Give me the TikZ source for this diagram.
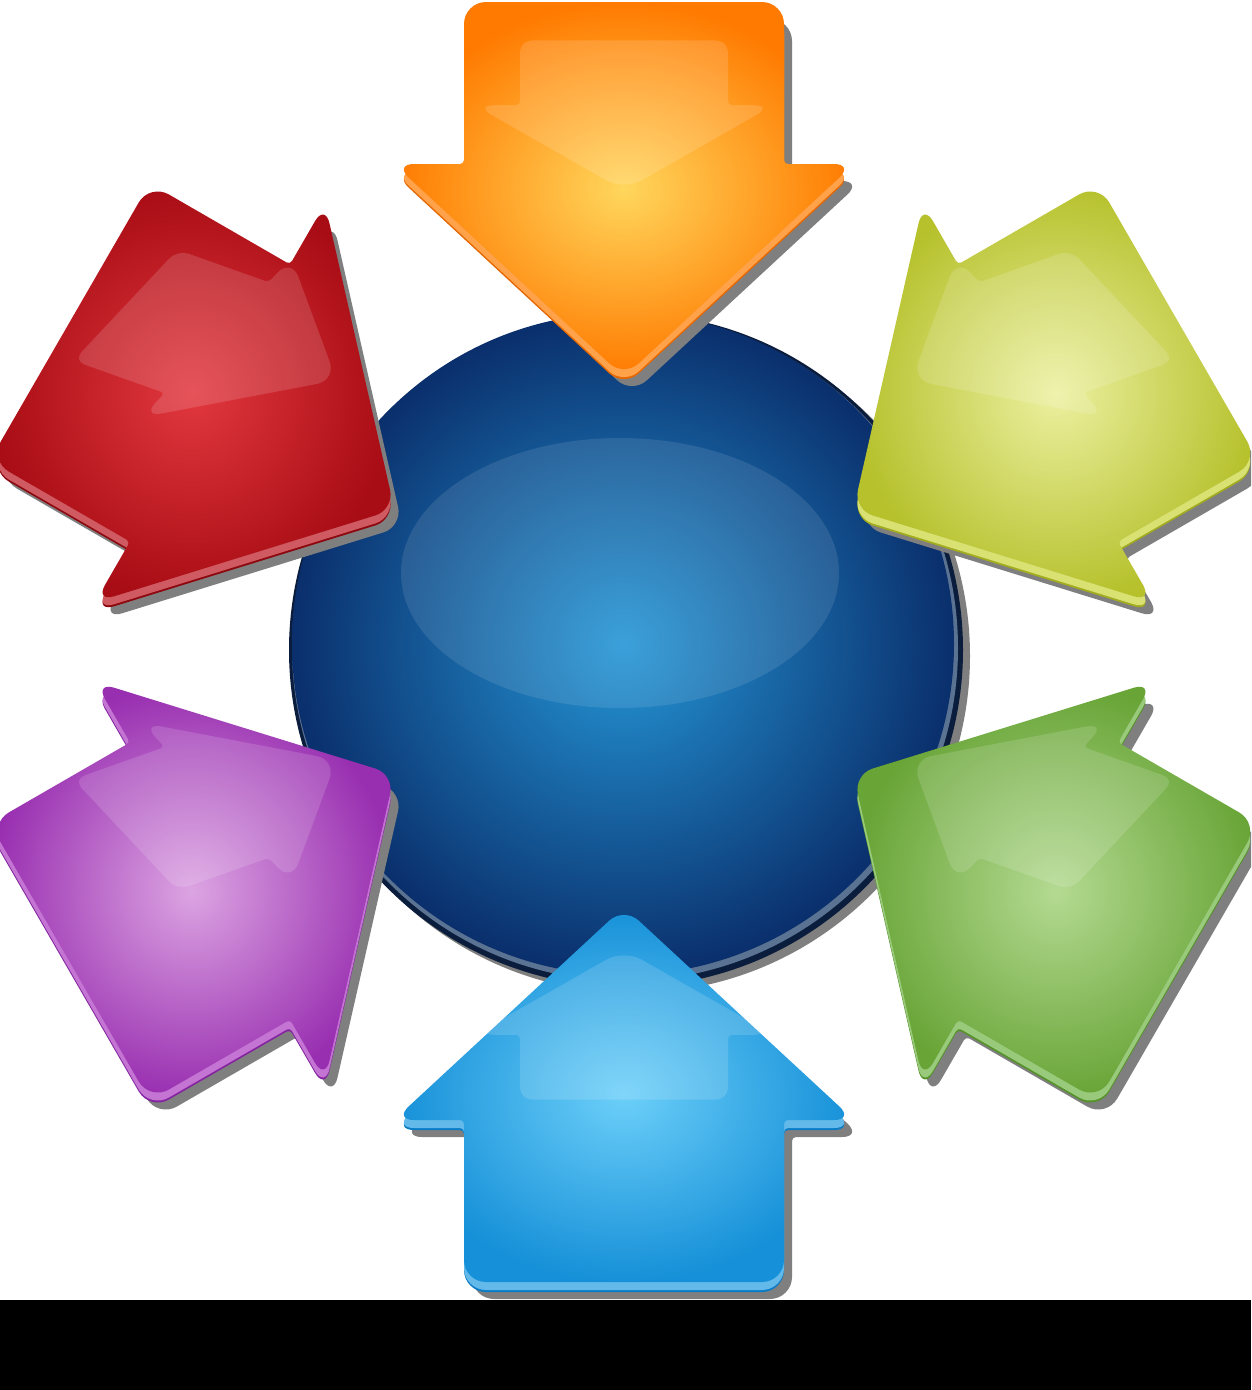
\documentclass[tikz,border=0pt]{standalone}
\usepackage{tikz}

\definecolor{shadowgray}{HTML}{7F7F7F}
\definecolor{ballin}{HTML}{2596D6}
\definecolor{ballout}{HTML}{0A2F6C}
\definecolor{balledge}{HTML}{0B1D3C}
\definecolor{ballrim}{HTML}{5B7393}
% arrow colours: face outer, face centre, rim, edge
\definecolor{orgout}{HTML}{FF7A00}\definecolor{orgin}{HTML}{FFD65C}\definecolor{orgrim}{HTML}{FFA24A}\definecolor{orgedge}{HTML}{E86800}
\definecolor{redout}{HTML}{A80C14}\definecolor{redin}{HTML}{E2383F}\definecolor{redrim}{HTML}{CF5A62}\definecolor{rededge}{HTML}{8C080E}
\definecolor{limout}{HTML}{B6C12C}\definecolor{limin}{HTML}{ECF0A0}\definecolor{limrim}{HTML}{D9E173}\definecolor{limedge}{HTML}{A2AC1E}
\definecolor{grnout}{HTML}{68A436}\definecolor{grnin}{HTML}{B4DA92}\definecolor{grnrim}{HTML}{99C97A}\definecolor{grnedge}{HTML}{56922A}
\definecolor{bluout}{HTML}{1690D8}\definecolor{bluin}{HTML}{6CCFF9}\definecolor{blurim}{HTML}{62B9EA}\definecolor{bluedge}{HTML}{0A7CC8}
\definecolor{purout}{HTML}{982EB0}\definecolor{purin}{HTML}{DCA4E2}\definecolor{purrim}{HTML}{C474D2}\definecolor{puredge}{HTML}{8424A0}

\tikzset{
  shadowfill/.style={fill=shadowgray},
  glossfill/.style={fill=white, fill opacity=0.14},
  arrowcorner/.style={rounded corners=22pt},
}

% one arrow, pointing at the ball centre, ball centre at origin
\newcommand{\arrowshape}{(-160,-560) -- (-160,-640) -- (160,-640) [rounded corners=4pt] -- (160,-478) [rounded corners=20pt] -- (230,-478) -- (0,-265) -- (-230,-478) [rounded corners=4pt] -- (-160,-478) -- cycle}

% #1 angle, #2 face outer, #3 face centre, #4 rim, #5 edge, #6 #7 gloss centre
\newcommand{\inarrow}[7]{%
  \fill[shadowfill, arrowcorner, shift={(632,659)}, rotate=#1] \arrowshape;
  \fill[fill=#5, arrowcorner, shift={(624,652)}, rotate=#1] \arrowshape;
  \fill[fill=#4, arrowcorner, shift={(624,650)}, rotate=#1] \arrowshape;
  \shade[inner color=#3, outer color=#2, arrowcorner, shift={(624,642)}, rotate=#1] \arrowshape;
  \fill[glossfill, rounded corners=12pt, shift={(#6,#7)}, xscale=0.65, yscale=0.4, rotate=#1, shift={(0,456)}] \arrowshape;
}

\begin{document}
\begin{tikzpicture}[x=1pt,y=-1pt]
\useasboundingbox (0,0) rectangle (1251,1390);
\fill[white] (0,0) rectangle (1251,1390);

\begin{scope}
\clip (0,0) rectangle (1251,1300);

%Shape: Ball
\fill[shadowfill] (633,656) circle (337pt);
\fill[balledge] (626,650) circle (337pt);
\fill[ballrim] (625,648) circle (333pt);
\shade[inner color=ballin, outer color=ballout] (623,644) circle (331pt);
\fill[glossfill, fill opacity=0.1] (620,573) ellipse (219pt and 135pt);

%Shape: Arrows
\inarrow{0}{orgout}{orgin}{orgrim}{orgedge}{624}{114}
\inarrow{60}{redout}{redin}{redrim}{rededge}{229}{342}
\inarrow{120}{purout}{purin}{purrim}{puredge}{229}{798}
\inarrow{180}{bluout}{bluin}{blurim}{bluedge}{624}{1026}
\inarrow{240}{grnout}{grnin}{grnrim}{grnedge}{1019}{798}
\inarrow{300}{limout}{limin}{limrim}{limedge}{1019}{342}
\end{scope}

%Footer band
\fill[black] (0,1300) rectangle (1251,1390);
\end{tikzpicture}
\end{document}
